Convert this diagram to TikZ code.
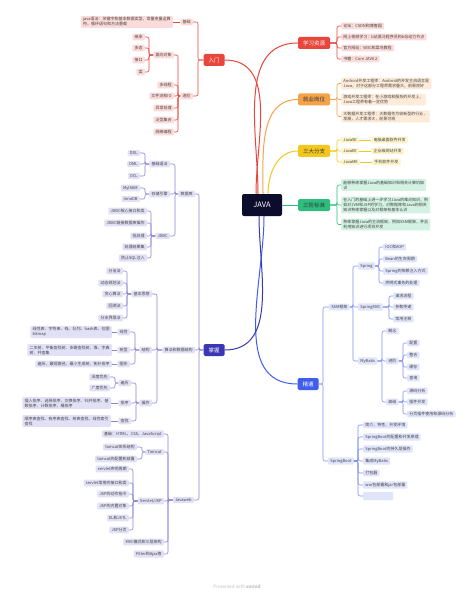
\documentclass[tikz,border=0pt]{standalone}
\usepackage{fontspec}
\setmainfont{Noto Sans CJK SC}
\definecolor{cRed}{HTML}{E8453C}
\definecolor{cRedL}{HTML}{FCDCDA}
\definecolor{cOr}{HTML}{F5A24B}
\definecolor{cOrL}{HTML}{FDEBD8}
\definecolor{cYe}{HTML}{F4C71E}
\definecolor{cYeL}{HTML}{FDF3CC}
\definecolor{cGr}{HTML}{2DBE7E}
\definecolor{cGrL}{HTML}{D3F2E3}
\definecolor{cBl}{HTML}{3F5EEB}
\definecolor{cBlL}{HTML}{E0E5FB}
\definecolor{cBlLine}{HTML}{7F93F0}
\definecolor{cIn}{HTML}{3B36B3}
\definecolor{cInL}{HTML}{E2E0F6}
\definecolor{cInLine}{HTML}{8A86D6}
\definecolor{cNavy}{HTML}{0C0C2C}
\newcommand\conR[4]{\draw[#1] (#2.east) -- (#4,0 |- #2.east) |- (#3.west);}
\newcommand\conL[4]{\draw[#1] (#2.west) -- (#4,0 |- #2.west) |- (#3.east);}
\tikzset{
  jv/.style={fill=cNavy, text=white, rounded corners=2pt, minimum width=40pt, minimum height=22pt, font=\fontsize{7.5}{8}\selectfont},
  mn/.style={rounded corners=1.5pt, minimum height=12pt, inner xsep=5pt, inner ysep=0pt, font=\fontsize{5.5}{6}\selectfont},
  lf/.style={rounded corners=1pt, inner xsep=2.2pt, inner ysep=1.5pt, font=\fontsize{4}{5}\selectfont, text=black!75, align=left},
  redl/.style={lf, fill=cRedL},
  orl/.style={lf, fill=cOrL},
  yel/.style={lf, fill=cYeL},
  grl/.style={lf, fill=cGrL},
  bll/.style={lf, fill=cBlL},
  inl/.style={lf, fill=cInL},
  ln/.style={line width=0.6pt, rounded corners=2pt},
  lnRed/.style={ln, draw=cRed},
  lnOr/.style={ln, draw=cOr},
  lnYe/.style={ln, draw=cYe},
  lnGr/.style={ln, draw=cGr},
  lnBl/.style={ln, draw=cBlLine},
  lnIn/.style={ln, draw=cInLine},
  big/.style={line width=1pt}
}
\begin{document}
\begin{tikzpicture}[x=1pt,y=-1pt]
\fill[white] (0,0) rectangle (474,596);
\path[use as bounding box] (0,0) rectangle (474,596);

% central and main nodes
\node[jv] (java) at (262,205) {JAVA};
\node[mn, fill=cRed, text=white] (xx) at (314,43) {学习资源};
\node[mn, fill=cOr, text=black!80] (jy) at (314,99.5) {就业岗位};
\node[mn, fill=cYe, text=black!80] (sd) at (314,151) {三大分支};
\node[mn, fill=cGr, text=black!80] (sj) at (314,205) {三阶标准};
\node[mn, fill=cBl, text=white] (jt) at (308,384) {精通};
\node[mn, fill=cRed, text=white] (rm) at (214,60) {入门};
\node[mn, fill=cIn, text=white] (zw) at (214,350) {掌握};

\draw[big, cRed] ([xshift=-4pt]java.north) to[out=90,in=180] (xx.west);
\draw[big, cRed] ([xshift=-6pt]java.north) to[out=90,in=0] (rm.east);
\draw[big, cOr] ([xshift=1pt]java.north) to[out=90,in=180] (jy.west);
\draw[big, cYe] ([xshift=6pt]java.north) to[out=90,in=180] (sd.west);
\draw[big, cGr] (java.east) -- (sj.west);
\draw[big, cBl] ([xshift=2pt]java.south) to[out=-90,in=180] (jt.west);
\draw[big, cIn] ([xshift=-3pt]java.south) to[out=-90,in=0] (zw.east);

% 学习资源
\node[redl,anchor=west] (xx1) at (341,26) {论坛：CSDN和博客园};
\node[redl,anchor=west] (xx2) at (341,37) {网上视频学习：b站黑马程序员和b站动力节点};
\node[redl,anchor=west] (xx3) at (341,48) {官方网站：W3C和菜鸟教程};
\node[redl,anchor=west] (xx4) at (341,59) {书籍：Core JAVA 2};
\foreach \c in {xx1,xx2,xx3,xx4} {\conR{lnRed}{xx}{\c}{337}}

% 就业岗位
\node[orl,anchor=west] (jy1) at (341,83.5) {Android开发工程师：Android的开发主流语言是\\Java，对于这部分工程师需求量大，前景良好};
\node[orl,anchor=west] (jy2) at (341,99.5) {游戏开发工程师：在小游戏和服务的开发上，\\Java工程师有着一定优势};
\node[orl,anchor=west] (jy3) at (341,116.5) {大数据开发工程师：大数据作为较新型的行业，\\发展，人才需求大，前景可观};
\foreach \c in {jy1,jy2,jy3} {\conR{lnOr}{jy}{\c}{337}}

% 三大分支
\node[yel,anchor=west] (se) at (341,140) {JavaSE};
\node[yel,anchor=west] (ee) at (341,151) {JavaEE};
\node[yel,anchor=west] (me) at (341,162) {JavaME};
\node[yel,anchor=west] (se2) at ([xshift=12pt]se.east) {电脑桌面软件开发};
\node[yel,anchor=west] (ee2) at ([xshift=12pt]ee.east) {企业级网站开发};
\node[yel,anchor=west] (me2) at ([xshift=12pt]me.east) {手机软件开发};
\foreach \c in {se,ee,me} {\conR{lnYe}{sd}{\c}{337}}
\draw[lnYe] (se.east) -- (se2.west);
\draw[lnYe] (ee.east) -- (ee2.west);
\draw[lnYe] (me.east) -- (me2.west);

% 三阶标准
\node[grl,anchor=west] (sj1) at (341,185) {能够熟练掌握Java的基础知识和相关计算机知\\识};
\node[grl,anchor=west] (sj2) at (341,205) {在入门的基础上进一步学习Java的难点知识，例\\如对JVM和JSP的学习，对数据库和Java的相关\\知识熟练掌握以及对框架有基本认识};
\node[grl,anchor=west] (sj3) at (341,224.5) {熟练掌握Java的主流框架，例如SSM框架，并且\\利用知识进行项目开发};
\foreach \c in {sj1,sj2,sj3} {\conR{lnGr}{sj}{\c}{337}}

% 精通
\node[bll,anchor=west] (ssm) at (329,307) {SSM框架};
\node[bll,anchor=west] (sb) at (328,461) {SpringBoot};
\conR{lnBl}{jt}{ssm}{323}
\conR{lnBl}{jt}{sb}{323}
\node[bll,anchor=west] (spr) at (358,266) {Spring};
\node[bll,anchor=west] (mvc) at (358,307) {SpringMVC};
\node[bll,anchor=west] (mb) at (358,361) {MyBatis};
\foreach \c in {spr,mvc,mb} {\conR{lnBl}{ssm}{\c}{353}}
\node[bll,anchor=west] (spr1) at (383,247) {IOC和AOP};
\node[bll,anchor=west] (spr2) at (383,259) {Bean的生命周期};
\node[bll,anchor=west] (spr3) at (383,271) {Spring的依赖注入方式};
\node[bll,anchor=west] (spr4) at (383,283) {声明式事务的处理};
\foreach \c in {spr1,spr2,spr3,spr4} {\conR{lnBl}{spr}{\c}{379}}
\node[bll,anchor=west] (mvc1) at (393,296) {请求流程};
\node[bll,anchor=west] (mvc2) at (393,307) {参数传递};
\node[bll,anchor=west] (mvc3) at (393,319) {常用注释};
\foreach \c in {mvc1,mvc2,mvc3} {\conR{lnBl}{mvc}{\c}{389}}
\node[bll,anchor=west] (mb1) at (386,331) {概念};
\node[bll,anchor=west] (mb2) at (386,361) {进阶};
\node[bll,anchor=west] (mb3) at (386,402) {高级};
\foreach \c in {mb1,mb2,mb3} {\conR{lnBl}{mb}{\c}{382}}
\node[bll,anchor=west] (jj1) at (407,343) {配置};
\node[bll,anchor=west] (jj2) at (407,355) {整合};
\node[bll,anchor=west] (jj3) at (407,367) {缓存};
\node[bll,anchor=west] (jj4) at (407,378) {查询};
\foreach \c in {jj1,jj2,jj3,jj4} {\conR{lnBl}{mb2}{\c}{403}}
\node[bll,anchor=west] (gj1) at (407,391) {源码分析};
\node[bll,anchor=west] (gj2) at (407,402) {插件开发};
\node[bll,anchor=west] (gj3) at (407,414) {分页插件使用和源码分析};
\foreach \c in {gj1,gj2,gj3} {\conR{lnBl}{mb3}{\c}{403}}
\node[bll,anchor=west] (sb1) at (363,425) {简介、特性、开发环境};
\node[bll,anchor=west] (sb2) at (363,437) {SpringBoot的配置和开发原理};
\node[bll,anchor=west] (sb3) at (363,449) {SpringBoot的持久层操作};
\node[bll,anchor=west] (sb4) at (363,461) {集成MyBatis};
\node[bll,anchor=west] (sb5) at (363,473) {打包器};
\node[bll,anchor=west] (sb6) at (363,485) {war包部署和jar包部署};
\node[bll,anchor=west, minimum width=30pt, minimum height=8pt] (sb7) at (363,496) {};
\foreach \c in {sb1,sb2,sb3,sb4,sb5,sb6,sb7} {\conR{lnBl}{sb}{\c}{358}}

% 入门
\node[redl,anchor=east] (jc) at (193,22) {基础};
\node[redl,anchor=east] (rj) at (193,96) {进阶};
\conL{lnRed}{rm}{jc}{198}
\conL{lnRed}{rm}{rj}{198}
\node[redl,anchor=east] (jc1) at (173,22) {java语法：关键字和基本数据类型，常量变量运算\\符，循环语句和方法重载};
\draw[lnRed] (jc.west) -- (jc1.east);
\node[redl,anchor=east] (rj1) at (174,55) {面向对象};
\node[redl,anchor=east] (rj2) at (174,85) {多线程};
\node[redl,anchor=east] (rj3) at (174,96) {文件流和IO};
\node[redl,anchor=east] (rj4) at (174,108) {异常处理};
\node[redl,anchor=east] (rj5) at (174,120) {泛型集合};
\node[redl,anchor=east] (rj6) at (174,132) {网络编程};
\foreach \c in {rj1,rj2,rj3,rj4,rj5,rj6} {\conL{lnRed}{rj}{\c}{178}}
\node[redl,anchor=east] (oo1) at (145,37) {继承};
\node[redl,anchor=east] (oo2) at (145,48) {多态};
\node[redl,anchor=east] (oo3) at (145,60) {接口};
\node[redl,anchor=east] (oo4) at (145,72) {类};
\foreach \c in {oo1,oo2,oo3,oo4} {\conL{lnRed}{rj1}{\c}{149}}

% 掌握
\node[inl,anchor=east] (db) at (195,194) {数据库};
\node[inl,anchor=east] (sf) at (195,350) {算法和数据结构};
\node[inl,anchor=east] (jw) at (194,500) {Javaweb};
\foreach \c in {db,sf,jw} {\conL{lnIn}{zw}{\c}{199}}
% 数据库
\node[inl,anchor=east] (db1) at (170,164) {基础语法};
\node[inl,anchor=east] (db2) at (170,194) {存储引擎};
\node[inl,anchor=east] (db3) at (170,236) {JDBC};
\foreach \c in {db1,db2,db3} {\conL{lnIn}{db}{\c}{175}}
\node[inl,anchor=east] (yf1) at (140,153) {DDL};
\node[inl,anchor=east] (yf2) at (140,164) {DML};
\node[inl,anchor=east] (yf3) at (140,176) {DCL};
\foreach \c in {yf1,yf2,yf3} {\conL{lnIn}{db1}{\c}{145}}
\node[inl,anchor=east] (yq1) at (140,188) {MyISAM};
\node[inl,anchor=east] (yq2) at (140,199) {InnoDB};
\foreach \c in {yq1,yq2} {\conL{lnIn}{db2}{\c}{145}}
\node[inl,anchor=east] (jd1) at (147,211) {JDBC核心接口和类};
\node[inl,anchor=east] (jd2) at (147,223) {JDBC链接数据库操作};
\node[inl,anchor=east] (jd3) at (147,236) {批处理};
\node[inl,anchor=east] (jd4) at (147,247) {处理结果集};
\node[inl,anchor=east] (jd5) at (147,258) {防止SQL注入};
\foreach \c in {jd1,jd2,jd3,jd4,jd5} {\conL{lnIn}{db3}{\c}{151}}
% 算法和数据结构
\node[inl,anchor=east] (sx) at (152,294) {基本思想};
\node[inl,anchor=east] (jg) at (152,350) {结构};
\node[inl,anchor=east] (cz) at (152,403) {操作};
\foreach \c in {sx,jg,cz} {\conL{lnIn}{sf}{\c}{157}}
\node[inl,anchor=east] (sx1) at (123,271) {分治法};
\node[inl,anchor=east] (sx2) at (123,283) {动态规划法};
\node[inl,anchor=east] (sx3) at (123,294) {贪心算法};
\node[inl,anchor=east] (sx4) at (123,306) {回溯法};
\node[inl,anchor=east] (sx5) at (123,318) {分支界限法};
\foreach \c in {sx1,sx2,sx3,sx4,sx5} {\conL{lnIn}{sx}{\c}{127}}
\node[inl,anchor=east] (jg1) at (130,332) {线性};
\node[inl,anchor=east] (jg2) at (130,350) {树型};
\node[inl,anchor=east] (jg3) at (130,364) {图形};
\foreach \c in {jg1,jg2,jg3} {\conL{lnIn}{jg}{\c}{135}}
\node[inl,anchor=east] (jg1a) at (112,332) {线性表、字符串、栈、队列、hash表、位图\\bitmap};
\node[inl,anchor=east] (jg2a) at (112,350) {二叉树、平衡查找树、多路查找树、堆、字典\\树、并查集};
\node[inl,anchor=east] (jg3a) at (112,364) {遍历、最短路径、最小生成树、拓扑排序};
\draw[lnIn] (jg1.west) -- (jg1a.east);
\draw[lnIn] (jg2.west) -- (jg2a.east);
\draw[lnIn] (jg3.west) -- (jg3a.east);
\node[inl,anchor=east] (cz1) at (131,383) {遍历};
\node[inl,anchor=east] (cz2) at (131,403) {排序};
\node[inl,anchor=east] (cz3) at (131,421) {查找};
\foreach \c in {cz1,cz2,cz3} {\conL{lnIn}{cz}{\c}{136}}
\node[inl,anchor=east] (bl1) at (110,377) {深度优先};
\node[inl,anchor=east] (bl2) at (110,388) {广度优先};
\foreach \c in {bl1,bl2} {\conL{lnIn}{cz1}{\c}{115}}
\node[inl,anchor=east] (cz2a) at (111,403) {插入排序、选择排序、交换排序、归并排序、基\\数排序、计数排序、桶排序};
\node[inl,anchor=east] (cz3a) at (111,421) {顺序表查找、有序表查找、树表查找、线性索引\\查找};
\draw[lnIn] (cz2.west) -- (cz2a.east);
\draw[lnIn] (cz3.west) -- (cz3a.east);
% Javaweb
\node[inl,anchor=east] (jw1) at (164,434) {基础：HTML、CSS、JavaScript};
\node[inl,anchor=east] (jw2) at (164,452) {Tomcat};
\node[inl,anchor=east] (jw3) at (164,501) {Servlet/JSP};
\node[inl,anchor=east] (jw4) at (164,542) {MVC模式和三层架构};
\node[inl,anchor=east] (jw5) at (164,554) {Filter和Ajax等};
\foreach \c in {jw1,jw2,jw3,jw4,jw5} {\conL{lnIn}{jw}{\c}{168}}
\node[inl,anchor=east] (tc1) at (137,447) {tomcat体系结构};
\node[inl,anchor=east] (tc2) at (137,459) {tomcat的配置和部署};
\foreach \c in {tc1,tc2} {\conL{lnIn}{jw2}{\c}{142}}
\node[inl,anchor=east] (sv1) at (129,469) {servlet声明周期};
\node[inl,anchor=east] (sv2) at (129,483) {servlet常用的接口和类};
\node[inl,anchor=east] (sv3) at (129,494) {JSP的动作指令};
\node[inl,anchor=east] (sv4) at (129,506) {JSP的内置对象};
\node[inl,anchor=east] (sv5) at (129,518) {EL和JSTL};
\node[inl,anchor=east] (sv6) at (129,530) {JSP分页};
\foreach \c in {sv1,sv2,sv3,sv4,sv5,sv6} {\conL{lnIn}{jw3}{\c}{133}}

% footer
\node[font=\fontsize{4.5}{5}\selectfont, text=black!25] (pw) at (237,587) {Presented with \textbf{xmind}};
\end{tikzpicture}
\end{document}
